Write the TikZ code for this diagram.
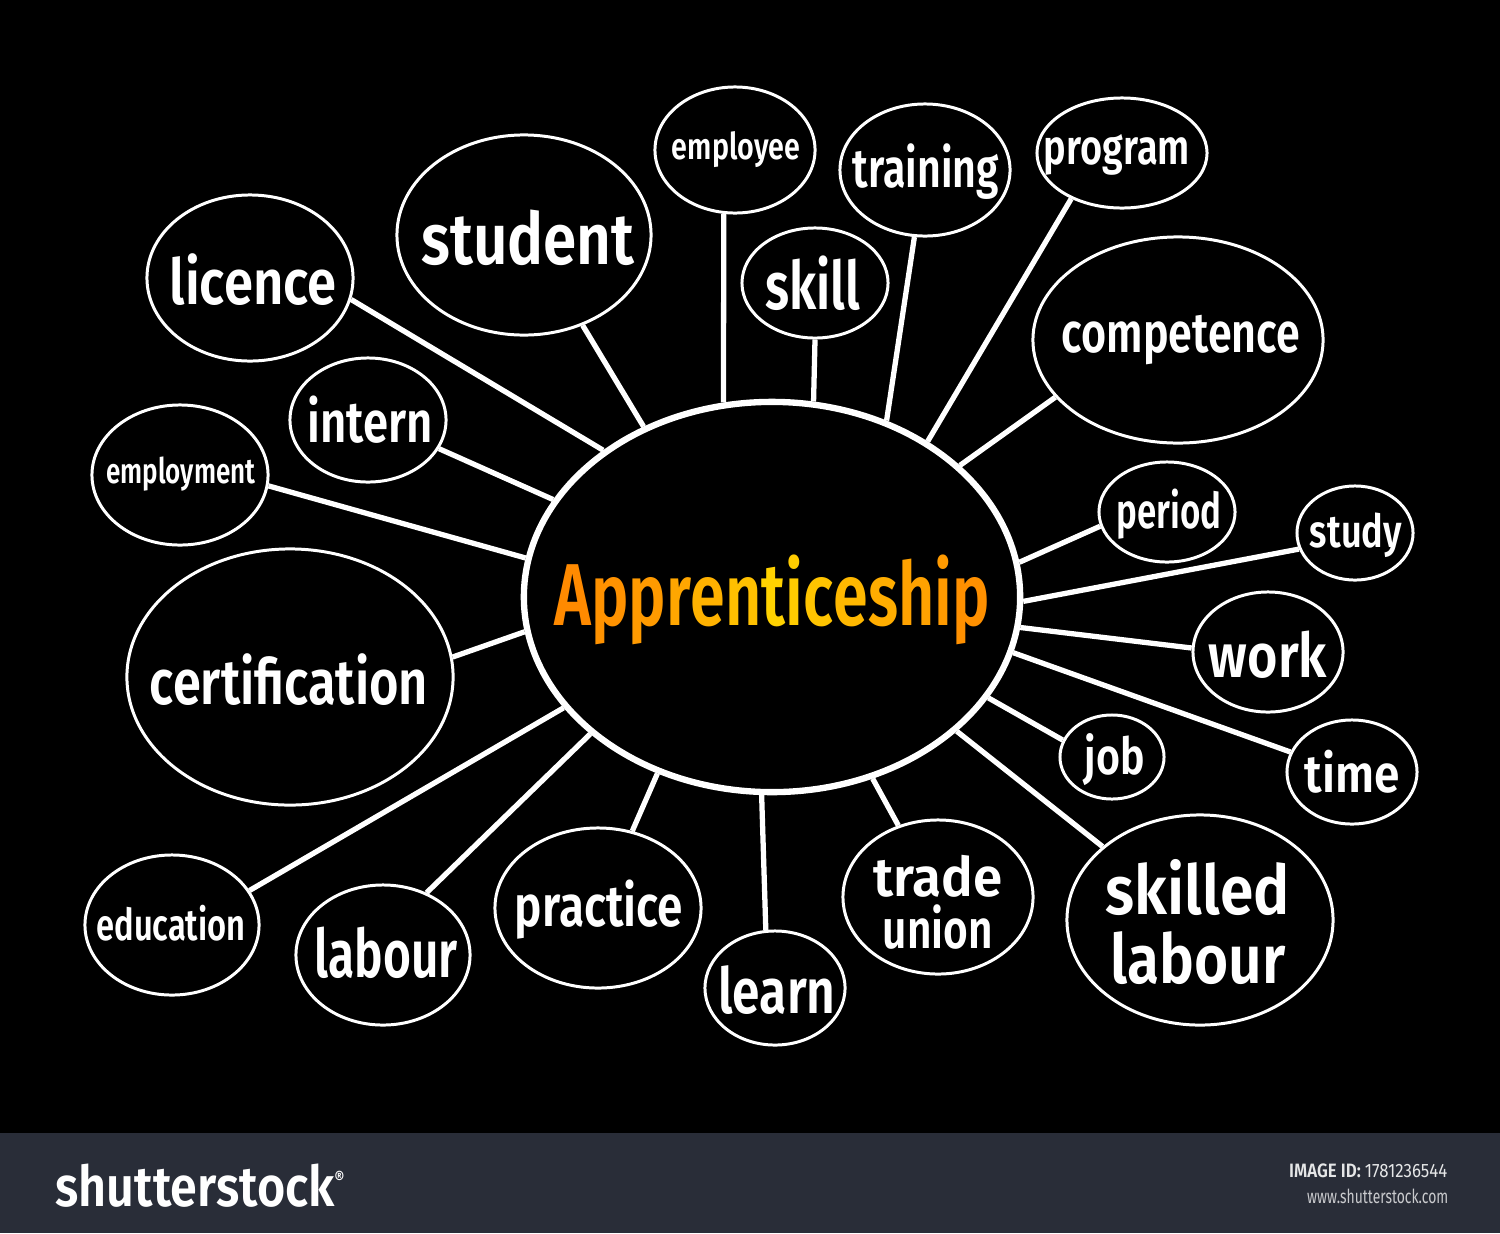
\documentclass[tikz,border=0pt]{standalone}
\usepackage{fontspec}
\setmainfont{Fira Sans}[BoldFont={* SemiBold}]
\usetikzlibrary{shapes.geometric}
\definecolor{barcol}{HTML}{292D38}
\newcommand{\lbl}[3]{\resizebox{#1}{\height}{\fontsize{#2}{#2}\selectfont #3}}
\newcommand{\oc}[2]{\textcolor[HTML]{#1}{#2}}
\begin{document}
\begin{tikzpicture}[x=0.01cm,y=-0.01cm,
  bub/.style={ellipse, draw=white, line width=0.85pt, fill=black, inner sep=0pt},
  hub/.style={ellipse, draw=white, line width=1.8pt, fill=black, inner sep=0pt},
  tx/.style={text=white, inner sep=0pt, align=center},
  link/.style={draw=white, line width=1.5pt},
  wm/.style={inner sep=0pt}]
\useasboundingbox (0,0) rectangle (1500,1233);
\fill[black] (0,0) rectangle (1500,1233);
\fill[barcol] (0,1133) rectangle (1500,1233);

% hub
\node[hub, minimum width=4.96cm, minimum height=3.90cm] (C) at (772,597) {};
\node[tx] (Ct) at (772,600)
  {\lbl{4.35cm}{25}{\bfseries\oc{FF8A00}{A}\oc{FF9200}{p}\oc{FF9A00}{p}\oc{FFA600}{r}\oc{FFB200}{e}\oc{FFC000}{n}\oc{FFD200}{t}\oc{FFCC00}{i}\oc{FFC400}{c}\oc{FFB800}{e}\oc{FFAD00}{s}\oc{FFA200}{h}\oc{FF9A00}{i}\oc{FF9000}{p}}};

% satellites
\node[bub, minimum width=2.06cm, minimum height=1.66cm] (licence) at (250,278) {};
\node[tx] (licence-t) at (253,280) {\lbl{1.67cm}{18}{\bfseries licence}};
\node[bub, minimum width=2.54cm, minimum height=2.00cm] (student) at (524,235) {};
\node[tx] (student-t) at (528,238) {\lbl{2.13cm}{20.5}{\bfseries student}};
\node[bub, minimum width=1.60cm, minimum height=1.26cm] (employee) at (735,150) {};
\node[tx] (employee-t) at (736,150) {\lbl{1.28cm}{10.5}{\bfseries employee}};
\node[bub, minimum width=1.46cm, minimum height=1.10cm] (skill) at (815,283) {};
\node[tx] (skill-t) at (813,283) {\lbl{0.95cm}{19}{\bfseries skill}};
\node[bub, minimum width=1.70cm, minimum height=1.32cm] (training) at (925,170) {};
\node[tx] (training-t) at (926,172) {\lbl{1.46cm}{15.5}{\bfseries training}};
\node[bub, minimum width=1.70cm, minimum height=1.10cm] (program) at (1122,153) {};
\node[tx] (program-t) at (1117,155) {\lbl{1.46cm}{14}{\bfseries program}};
\node[bub, minimum width=2.90cm, minimum height=2.06cm] (competence) at (1178,340) {};
\node[tx] (competence-t) at (1181,340) {\lbl{2.38cm}{16}{\bfseries competence}};
\node[bub, minimum width=1.56cm, minimum height=1.24cm] (intern) at (368,420) {};
\node[tx] (intern-t) at (370,420) {\lbl{1.25cm}{16.5}{\bfseries intern}};
\node[bub, minimum width=1.76cm, minimum height=1.40cm] (employment) at (180,475) {};
\node[tx] (employment-t) at (181,474) {\lbl{1.49cm}{10}{\bfseries employment}};
\node[bub, minimum width=3.26cm, minimum height=2.56cm] (certification) at (290,677) {};
\node[tx] (certification-t) at (289,680) {\lbl{2.78cm}{18}{\bfseries certification}};
\node[bub, minimum width=1.36cm, minimum height=1.00cm] (period) at (1167,512) {};
\node[tx] (period-t) at (1169,514) {\lbl{1.05cm}{14}{\bfseries period}};
\node[bub, minimum width=1.16cm, minimum height=0.94cm] (study) at (1355,533) {};
\node[tx] (study-t) at (1356,535) {\lbl{0.92cm}{13}{\bfseries study}};
\node[bub, minimum width=1.50cm, minimum height=1.20cm] (work) at (1268,652) {};
\node[tx] (work-t) at (1268,655) {\lbl{1.18cm}{17.5}{\bfseries work}};
\node[bub, minimum width=1.30cm, minimum height=1.04cm] (time) at (1352,772) {};
\node[tx] (time-t) at (1352,772) {\lbl{0.95cm}{15}{\bfseries time}};
\node[bub, minimum width=1.04cm, minimum height=0.84cm] (job) at (1112,757) {};
\node[tx] (job-t) at (1115,760) {\lbl{0.60cm}{14.5}{\bfseries job}};
\node[bub, minimum width=2.66cm, minimum height=2.10cm] (skilled) at (1200,920) {};
\node[tx, font=\fontsize{19.5}{19.5}\selectfont] (skilled-t) at (1198,922)
  {\lbl{1.84cm}{19.5}{\bfseries skilled}\\\lbl{1.75cm}{19.5}{\bfseries labour}};
\node[bub, minimum width=1.90cm, minimum height=1.54cm] (trade) at (938,897) {};
\node[tx, font=\fontsize{15.5}{14.8}\selectfont] (trade-t) at (938,902)
  {\lbl{1.29cm}{15.5}{\bfseries trade}\\\lbl{1.10cm}{15.5}{\bfseries union}};
\node[bub, minimum width=1.40cm, minimum height=1.14cm] (learn) at (775,988) {};
\node[tx] (learn-t) at (777,990) {\lbl{1.17cm}{18}{\bfseries learn}};
\node[bub, minimum width=2.06cm, minimum height=1.60cm] (practice) at (598,908) {};
\node[tx] (practice-t) at (599,910) {\lbl{1.68cm}{16.5}{\bfseries practice}};
\node[bub, minimum width=1.74cm, minimum height=1.40cm] (labour) at (383,955) {};
\node[tx] (labour-t) at (386,953) {\lbl{1.43cm}{19}{\bfseries labour}};
\node[bub, minimum width=1.74cm, minimum height=1.40cm] (education) at (172,925) {};
\node[tx] (education-t) at (171,923) {\lbl{1.49cm}{12.5}{\bfseries education}};

% connectors
\draw[link] (C.139.2) -- (licence.-12.8);
\draw[link] (C.127) -- (student.-57.2);
\draw[link] (C.104.8) -- (employee.260);
\draw[link] (C.78.6) -- (skill.270);
\draw[link] (C.57.3) -- (training.261.4);
\draw[link] (C.45.3) -- (program.222.1);
\draw[link] (C.35.5) -- (competence.205.1);
\draw[link] (C.156.6) -- (intern.-22.6);
\draw[link] (C.171.9) -- (employment.-7.1);
\draw[link] (C.188) -- (certification.7.7);
\draw[link] (C.8.9) -- (period.192.6);
\draw[link] (C.-1.8) -- (study.196.6);
\draw[link] (C.-7.7) -- (work.177);
\draw[link] (C.-13.6) -- (time.162.1);
\draw[link] (C.-25.4) -- (job.161.2);
\draw[link] (C.-36.3) -- (skilled.143.1);
\draw[link] (C.-61.3) -- (trade.119.8);
\draw[link] (C.267.1) -- (learn.99.8);
\draw[link] (C.237) -- (practice.66.4);
\draw[link] (C.217.9) -- (labour.55.3);
\draw[link] (C.208.1) -- (education.24);

% bottom bar
\node[wm, anchor=west, text=white] (logo) at (55,1186) {\lbl{2.90cm}{16}{\bfseries shutterstock\textsuperscript{\tiny ®}}};
\node[wm, anchor=east, text=white!88!barcol] (imgid) at (1448,1171) {\lbl{1.58cm}{5.5}{\bfseries IMAGE ID: \mdseries 1781236544}};
\node[wm, anchor=east, text=white!75!barcol] (www) at (1449,1196) {\lbl{1.41cm}{5.5}{www.shutterstock.com}};
\end{tikzpicture}
\end{document}
